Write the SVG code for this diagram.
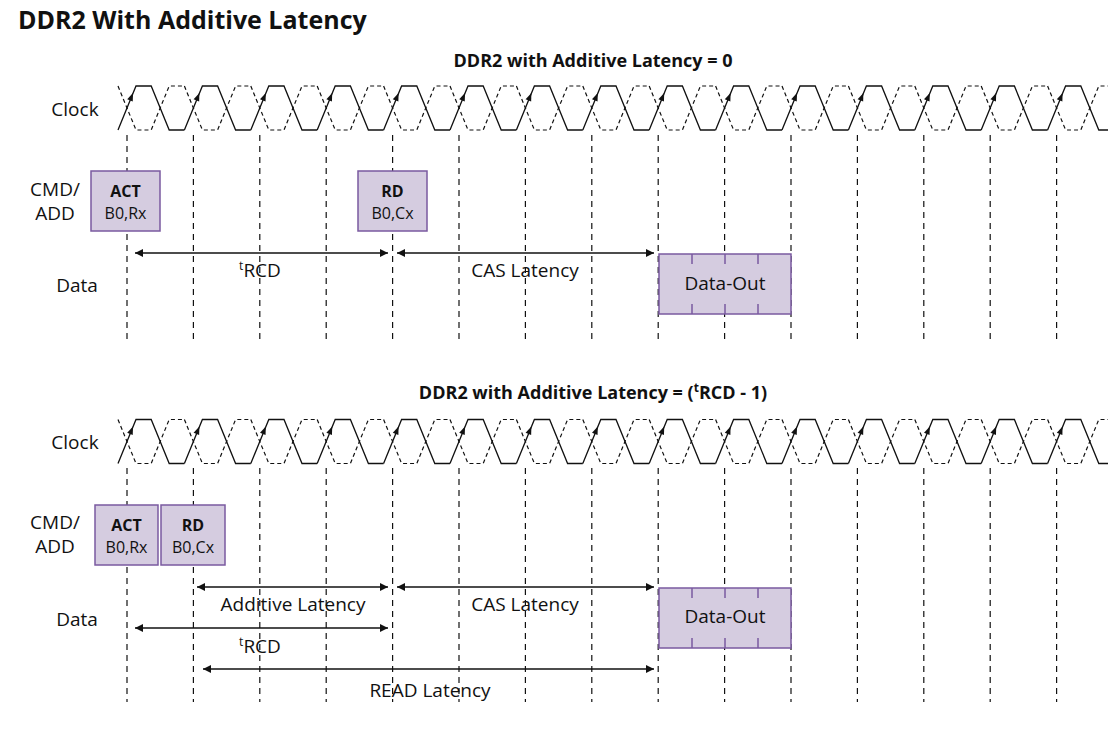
<svg xmlns="http://www.w3.org/2000/svg" xmlns:xlink="http://www.w3.org/1999/xlink" width="1108" height="748" viewBox="0 0 1108 748">
<style>
text{font-family:"Open Sans","Noto Sans","Liberation Sans",sans-serif;fill:#111}
.lbl{font-size:19px;text-anchor:middle}
.bx{fill:#d5cce0;stroke:#7a5aa0;stroke-width:1.5}
.bt{font-size:16px;text-anchor:middle}
.grid{stroke:#111;stroke-width:1.2;stroke-dasharray:6,5;fill:none}
.sol{stroke:#111;stroke-width:1.3;fill:none}
.dsh{stroke:#111;stroke-width:1.2;stroke-dasharray:4,3;fill:none}
.tk{stroke:#7a5aa0;stroke-width:1.5}
.ar{stroke:#111;stroke-width:1.3;fill:none;marker-start:url(#ah);marker-end:url(#ah)}
</style>
<defs>
<marker id="ah" viewBox="0 0 10 10" refX="10" refY="5" markerWidth="11" markerHeight="8" markerUnits="userSpaceOnUse" orient="auto-start-reverse"><path d="M0,0L10,5L0,10z" fill="#111"/></marker>
<g id="cyc">
<path class="sol" d="M-9,22L9,-22L24.2,-22L42.2,22L57.4,22"/>
<path class="dsh" d="M-9,-22L9,22L24.2,22L42.2,-22L57.4,-22"/>
<path d="M6,-15L5.75,-6.46L0.19,-8.74z" fill="#111"/>
</g>
<g id="clk">
<use xlink:href="#cyc" x="127"/><use xlink:href="#cyc" x="193.4"/><use xlink:href="#cyc" x="259.8"/><use xlink:href="#cyc" x="326.2"/><use xlink:href="#cyc" x="392.6"/><use xlink:href="#cyc" x="459"/><use xlink:href="#cyc" x="525.4"/><use xlink:href="#cyc" x="591.8"/><use xlink:href="#cyc" x="658.2"/><use xlink:href="#cyc" x="724.6"/><use xlink:href="#cyc" x="791"/><use xlink:href="#cyc" x="857.4"/><use xlink:href="#cyc" x="923.8"/><use xlink:href="#cyc" x="990.2"/><use xlink:href="#cyc" x="1056.6"/>
</g>
</defs>
<text x="18" y="29" style="font-size:25px;font-weight:bold">DDR2 With Additive Latency</text>
<text x="593" y="67" style="font-size:18px;font-weight:bold;text-anchor:middle">DDR2 with Additive Latency = 0</text>
<text x="593" y="399" style="font-size:18px;font-weight:bold;text-anchor:middle">DDR2 with Additive Latency = (<tspan dy="-7" style="font-size:12px">t</tspan><tspan dy="7">RCD - 1)</tspan></text>

<g id="labels">
<text class="lbl" x="75" y="116">Clock</text>
<text class="lbl" x="55" y="196">CMD/</text>
<text class="lbl" x="55" y="220">ADD</text>
<text class="lbl" x="77" y="292">Data</text>
<text class="lbl" x="75" y="449">Clock</text>
<text class="lbl" x="55" y="529">CMD/</text>
<text class="lbl" x="55" y="553">ADD</text>
<text class="lbl" x="77" y="626">Data</text>
</g>

<g id="clock-top"><use xlink:href="#clk" y="108"/></g>
<g id="clock-bottom"><use xlink:href="#clk" y="441.5"/></g>

<g id="grid">
<path class="grid" d="M127,135V340M193.4,135V340M259.8,135V340M326.2,135V340M392.6,135V340M459,135V340M525.4,135V340M591.8,135V340M658.2,135V340M724.6,135V340M791,135V340M857.4,135V340M923.8,135V340M990.2,135V340M1056.6,135V340"/>
<path class="grid" d="M127,468V702M193.4,468V702M259.8,468V702M326.2,468V702M392.6,468V702M459,468V702M525.4,468V702M591.8,468V702M658.2,468V702M724.6,468V702M791,468V702M857.4,468V702M923.8,468V702M990.2,468V702M1056.6,468V702"/>
</g>

<g id="act1"><rect class="bx" x="91" y="171" width="69" height="60"/><text class="bt" x="125.5" y="197" font-weight="bold">ACT</text><text class="bt" x="125.5" y="219">B0,Rx</text></g>
<g id="rd1"><rect class="bx" x="358" y="171" width="69" height="60"/><text class="bt" x="392.5" y="197" font-weight="bold">RD</text><text class="bt" x="392.5" y="219">B0,Cx</text></g>
<g id="dout1"><rect class="bx" x="659" y="254" width="132" height="60"/><path class="tk" d="M692,254v10M725,254v10M758,254v10M692,304v10M725,304v10M758,304v10"/><text class="lbl" x="725" y="290">Data-Out</text></g>

<g id="act2"><rect class="bx" x="95" y="505" width="63" height="60"/><text class="bt" x="126.5" y="531" font-weight="bold">ACT</text><text class="bt" x="126.5" y="553">B0,Rx</text></g>
<g id="rd2"><rect class="bx" x="161" y="505" width="64" height="60"/><text class="bt" x="193" y="531" font-weight="bold">RD</text><text class="bt" x="193" y="553">B0,Cx</text></g>
<g id="dout2"><rect class="bx" x="659" y="588" width="132" height="60"/><path class="tk" d="M692,588v10M725,588v10M758,588v10M692,638v10M725,638v10M758,638v10"/><text class="lbl" x="725" y="623">Data-Out</text></g>

<g id="connectors">
<path class="ar" d="M135,253H388"/>
<path class="ar" d="M397,253H654"/>
<path class="ar" d="M197,587H388"/>
<path class="ar" d="M397,587H654"/>
<path class="ar" d="M135,628H388"/>
<path class="ar" d="M203,669H654"/>
</g>
<g id="arrow-labels">
<text class="lbl" x="260" y="277"><tspan dy="-7" style="font-size:12px">t</tspan><tspan dy="7">RCD</tspan></text>
<text class="lbl" x="525" y="277">CAS Latency</text>
<text class="lbl" x="293" y="611">Additive Latency</text>
<text class="lbl" x="525" y="611">CAS Latency</text>
<text class="lbl" x="260" y="653"><tspan dy="-7" style="font-size:12px">t</tspan><tspan dy="7">RCD</tspan></text>
<text class="lbl" x="430" y="697">READ Latency</text>
</g>
</svg>
